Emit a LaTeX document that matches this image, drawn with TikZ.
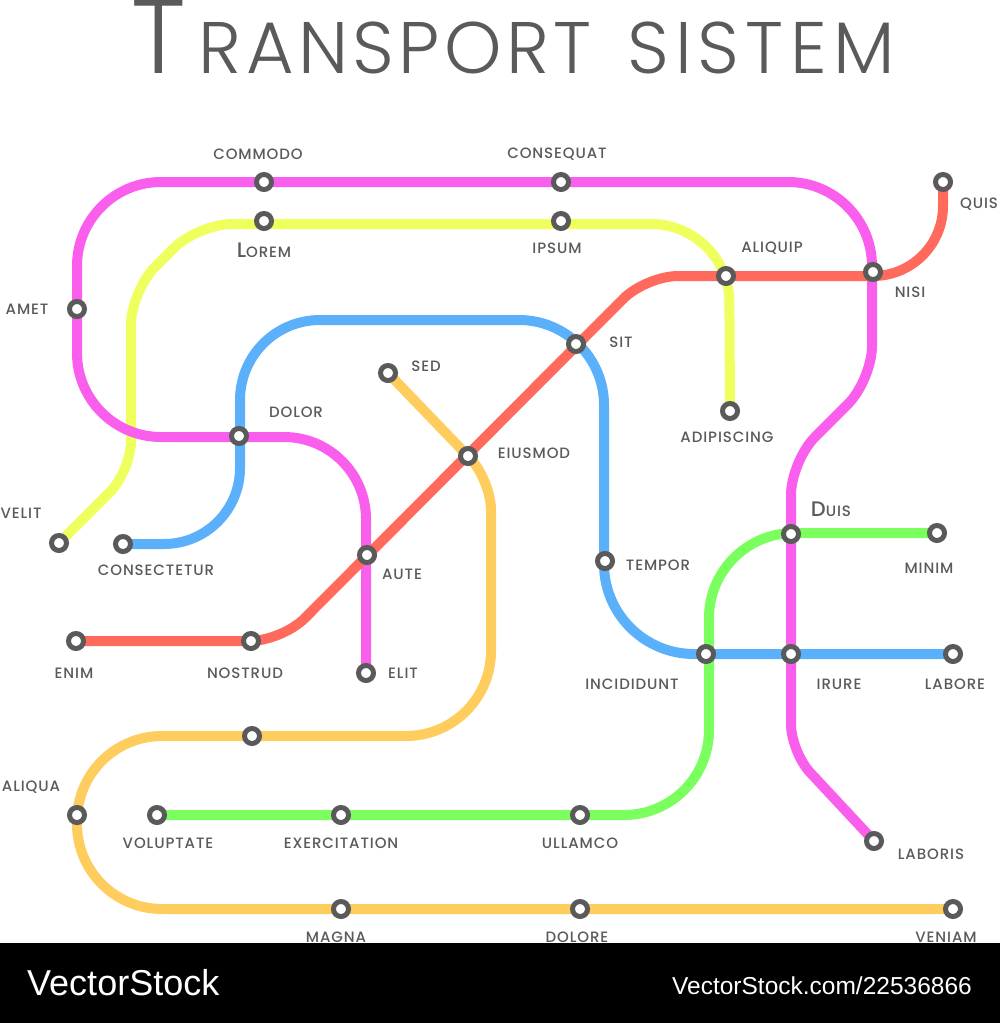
\documentclass[tikz,border=0pt]{standalone}
\usepackage{fontspec}
\usetikzlibrary{backgrounds}
\setmainfont{Poppins}
\newfontfamily\titlefont[UprightFont=* Light,LetterSpace=6]{Poppins}
\newfontfamily\labelfont[UprightFont=* Medium,LetterSpace=6]{Poppins}
\newfontfamily\stockfont{Liberation Sans}
\definecolor{pinkline}{HTML}{F95FEC}
\definecolor{limeline}{HTML}{EEFF5E}
\definecolor{blueline}{HTML}{5BB0FB}
\definecolor{redline}{HTML}{FF6A5C}
\definecolor{orangeline}{HTML}{FFCC5E}
\definecolor{greenline}{HTML}{7BFF5E}
\definecolor{stopgray}{HTML}{5A5A5A}
\tikzset{
  stopnode/.style={draw=stopgray,line width=5pt,fill=white,circle,minimum size=15pt,inner sep=0pt},
  txt/.style={text=stopgray,font=\labelfont\fontsize{15}{15}\selectfont,inner sep=0pt,anchor=center},
  metro/.style={line width=10pt,line join=round}
}
\newcommand{\bigfirst}[2]{{\fontsize{21}{21}\selectfont #1}{\fontsize{15}{15}\selectfont #2}}
\begin{document}
\begin{tikzpicture}[x=1pt,y=-1pt]
\useasboundingbox (0,0) rectangle (1000,1023);
\node[stopnode] (commodo) at (264,182) {};
\node[stopnode] (consequat) at (561,182) {};
\node[stopnode] (lorem) at (264,221) {};
\node[stopnode] (ipsum) at (561,221) {};
\node[stopnode] (aliquip) at (726,276) {};
\node[stopnode] (nisi) at (873,272) {};
\node[stopnode] (quis) at (943,182) {};
\node[stopnode] (amet) at (77,309) {};
\node[stopnode] (sit) at (576,344) {};
\node[stopnode] (sed) at (388,373) {};
\node[stopnode] (adipiscing) at (730,411) {};
\node[stopnode] (dolor) at (239,436) {};
\node[stopnode] (eiusmod) at (468,456) {};
\node[stopnode] (velit) at (59,543) {};
\node[stopnode] (consectetur) at (123,544) {};
\node[stopnode] (aute) at (367,555) {};
\node[stopnode] (duis) at (791,534) {};
\node[stopnode] (minim) at (937,533) {};
\node[stopnode] (tempor) at (605,561) {};
\node[stopnode] (enim) at (76,641) {};
\node[stopnode] (nostrud) at (251,641) {};
\node[stopnode] (elit) at (366,673) {};
\node[stopnode] (incididunt) at (706,654) {};
\node[stopnode] (irure) at (791,654) {};
\node[stopnode] (labore) at (953,654) {};
\node[stopnode] (unnamed) at (252,736) {};
\node[stopnode] (aliqua) at (77,815) {};
\node[stopnode] (voluptate) at (157,815) {};
\node[stopnode] (exercitation) at (341,815) {};
\node[stopnode] (ullamco) at (580,815) {};
\node[stopnode] (laboris) at (874,841) {};
\node[stopnode] (magna) at (341,909) {};
\node[stopnode] (dolore) at (580,909) {};
\node[stopnode] (veniam) at (953,909) {};
\begin{scope}[on background layer]
\draw[metro,limeline] (velit.center) [rounded corners=30pt] -- (131,471) [rounded corners=34pt] -- (131,291) -- (198,224) [rounded corners=78pt] -- (729,224) -- (adipiscing.center);
\draw[metro,pinkline] (elit.center) [rounded corners=82pt] -- (366,437) [rounded corners=84pt] -- (77,437) -- (77,182) -- (872,182) [rounded corners=34pt] -- (872,380) -- (791,461) [rounded corners=28pt] -- (791,752) -- (laboris.center);
\draw[metro,blueline] (consectetur.center) [rounded corners=76pt] -- (240,544) [rounded corners=80pt] -- (240,320) [rounded corners=85pt] -- (604,320) [rounded corners=90pt] -- (604,654) -- (labore.center);
\draw[metro,orangeline] (sed.center) [rounded corners=30pt] -- (491,480) [rounded corners=85pt] -- (491,736) -- (77,736) -- (77,909) -- (veniam.center);
\draw[metro,redline] (enim.center) [rounded corners=32pt] -- (282,641) -- (646,276) [rounded corners=70pt] -- (943,276) -- (quis.center);
\draw[metro,greenline] (voluptate.center) [rounded corners=85pt] -- (709,815) -- (709,533) -- (minim.center);
\end{scope}
\node[txt] (tcommodo) at (258,154) {COMMODO};
\node[txt] (tconsequat) at (557,154) {CONSEQUAT};
\node[txt] (tlorem) at (264,250) {\bigfirst{L}{OREM}};
\node[txt] (tipsum) at (557,248) {IPSUM};
\node[txt] (taliquip) at (772,248) {ALIQUIP};
\node[txt] (tquis) at (979,204) {QUIS};
\node[txt] (tnisi) at (910,292) {NISI};
\node[txt] (tamet) at (27,309) {AMET};
\node[txt] (tsit) at (621,342) {SIT};
\node[txt] (tsed) at (426,366) {SED};
\node[txt] (tdolor) at (296,412) {DOLOR};
\node[txt] (teiusmod) at (534,453) {EIUSMOD};
\node[txt] (tadipiscing) at (727,437) {ADIPISCING};
\node[txt] (tvelit) at (21,513) {VELIT};
\node[txt] (tconsectetur) at (156,570) {CONSECTETUR};
\node[txt] (taute) at (402,574) {AUTE};
\node[txt] (tduis) at (831,509) {\bigfirst{D}{UIS}};
\node[txt] (ttempor) at (658,565) {TEMPOR};
\node[txt] (tminim) at (929,568) {MINIM};
\node[txt] (tenim) at (74,673) {ENIM};
\node[txt] (tnostrud) at (245,673) {NOSTRUD};
\node[txt] (telit) at (403,673) {ELIT};
\node[txt] (tincididunt) at (632,684) {INCIDIDUNT};
\node[txt] (tirure) at (839,684) {IRURE};
\node[txt] (tlabore) at (955,684) {LABORE};
\node[txt] (taliqua) at (31,787) {ALIQUA};
\node[txt] (tvoluptate) at (168,843) {VOLUPTATE};
\node[txt] (texercitation) at (341,843) {EXERCITATION};
\node[txt] (tullamco) at (580,843) {ULLAMCO};
\node[txt] (tlaboris) at (931,854) {LABORIS};
\node[txt] (tmagna) at (336,937) {MAGNA};
\node[txt] (tdolore) at (577,937) {DOLORE};
\node[txt] (tveniam) at (946,937) {VENIAM};
\node[text=stopgray,inner sep=0pt,anchor=base west] (title) at (131,73) {\titlefont{\fontsize{105}{105}\selectfont T}\hspace{13pt}\fontsize{73}{73}\selectfont RANSPORT\hspace{11.5pt} \addfontfeature{LetterSpace=8.5}SISTEM};
\fill[black] (0,943) rectangle (1000,1023);
\node[text=white,inner sep=0pt,anchor=base west,font=\stockfont\fontsize{36}{36}\selectfont] (stock) at (27,995) {VectorStock};
\node[text=white,inner sep=0pt,anchor=base east,font=\stockfont\fontsize{24.5}{24.5}\selectfont] (stockid) at (972,994) {VectorStock.com/22536866};
\end{tikzpicture}
\end{document}
